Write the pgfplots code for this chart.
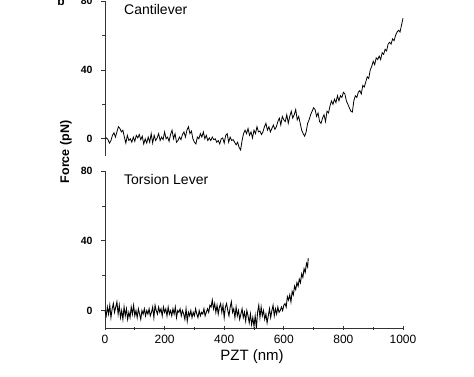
\documentclass[border=0pt]{standalone}
\usepackage{fontspec}
\setmainfont{Liberation Sans}
\usepackage{pgfplots}
\pgfplotsset{compat=1.18}
\usepackage{pgfplotstable}

\pgfplotstableread{
x y
0 0
5 0.5
10 -0.5
15 -2.5
20 -1
25 2
30 3.5
35 1
40 4
45 7
50 6
55 4
60 5
65 1
70 -2.5
75 2
80 -1
85 0
90 -2
95 1
100 -1.5
105 2
110 0.5
115 2.5
120 -0.5
125 1.5
130 -3
135 0
140 -2.5
145 1
150 -2
155 3
160 -2.5
165 2
170 -1
175 0.5
180 3
185 -1
190 1
195 -0.5
200 4
205 0
210 1
215 -1.5
220 2.5
225 5
230 0
235 3
240 -2
245 -1
250 1
255 -0.5
260 2.5
265 4
270 1
275 5
280 7
285 3
290 4.5
295 0
300 -2
305 -3
310 1
315 0
320 3
325 1
330 4
335 0
340 2
345 -1
350 0.5
355 -1
360 1
365 -0.5
370 0
375 -2
380 -1
385 -3
390 0
395 0.5
400 -2.5
405 2
410 3
415 -2
420 1
425 -1
430 -0.5
435 -2
440 -3.5
445 -2
450 -5
455 -6.5
460 -1
465 3
470 5
475 3
480 6
485 2
490 4
495 0.5
500 5
505 3
510 7
515 4
520 4.5
525 2.5
530 4
535 7
540 9
545 5
550 7
555 4
560 6
565 8
570 5.5
575 7
580 10
585 12
590 8
595 13
600 11
605 10
610 14
615 9
620 13
625 16
630 12
635 14
640 17
645 11
650 13
655 9
660 5
665 3
670 1.5
675 4
680 9
685 11
690 14
695 16
700 18
705 17
710 13
715 15
720 10
725 9
730 12
735 14
740 10
745 16
750 15
755 19
760 22
765 20
770 23
775 21
780 25
785 22
790 25
795 24
800 27
805 26
810 22
815 20
820 18
825 16
830 15.5
835 22
840 25
845 24
850 27
855 28
860 26
865 31
870 30
875 33
880 36
885 35
890 40
895 42
900 45
905 43
910 47
915 46
920 48
925 46
930 50
935 49
940 52
945 51
950 55
955 56
960 55
965 58
970 57
975 60
980 62
985 63
990 62
995 66
1000 70
}\cantilever

\pgfplotstableread{
x y
0 0
4 -3
8 2
12 -2
16 3
20 -4
24 1
28 4
32 -1
36 2
40 5
44 -2
48 3
52 -4
56 0
60 -5
64 2
68 -3
72 1
76 -5
80 -1
84 -4
88 2
92 -2
96 3
100 -3
104 0
108 -4
112 1
116 -2
120 -5
124 0
128 -2
132 1
136 -3
140 0
144 -2
148 1
152 -3
156 -1
160 2
164 -4
168 3
172 0
176 -2
180 2
184 -1
188 1
192 -3
196 2
200 -1
204 1
208 -3
212 2
216 -2
220 0
224 -3
228 1
232 -2
236 2
240 -4
244 0
248 -1
252 1
256 -3
260 0
264 -2
268 -5
272 1
276 -6
280 -1
284 -3
288 0
292 -4
296 -1
300 -3
304 1
308 -2
312 -4
316 0
320 -3
324 -1
328 -2
332 1
336 -3
340 -1
344 1
348 -1
352 3
356 2
360 6
364 1
368 4
372 -1
376 3
380 -2
384 2
388 4
392 -1
396 3
400 -4
404 2
408 4
412 0
416 -3
420 2
424 5
428 -1
432 1
436 -4
440 2
444 -3
448 0
452 -5
456 -2
460 1
464 -4
468 -1
472 -6
476 0
480 -3
484 -7
488 -2
492 -8
496 -4
500 -9
504 -3
508 -10
512 -1
516 3
520 -4
524 2
528 -3
532 0
536 -5
540 -2
544 -7
548 -3
552 1
556 -4
560 0
564 3
568 -3
572 1
576 -2
580 2
584 -1
588 0
592 2
596 0
600 3
604 4
608 2
612 8
616 6
620 9
624 5
628 11
632 9
636 14
640 12
644 16
648 14
652 18
656 16
660 21
664 19
668 24
672 22
676 27
680 25
682 30
}\torsion

\begin{document}
\begin{tikzpicture}[x=1pt,y=1pt]
\useasboundingbox (0,0) rectangle (474,-376);
\pgfplotsset{
  panel/.style={
    scale only axis, width=298pt,
    xmin=0, xmax=1000, ymin=-10, ymax=80,
    axis y line=left,
    ytick={0,40,80}, minor ytick={20,60},
    tick align=outside, major tick length=4pt, minor tick length=3pt,
    tick style={black!80, line width=0.8pt},
    /pgf/number format/assume math mode=true,
    /pgf/number format/1000 sep={},
    yticklabel style={font=\fontsize{10.5pt}{12pt}\selectfont\bfseries, xshift=-5pt},
    clip=false,
  },
  plainlines/.style={axis line style={-, black!80, line width=0.8pt}},
}
\begin{axis}[panel, at={(105pt,-156pt)}, anchor=south west, height=155pt,
  axis x line=none, plainlines]
\addplot[black, line width=0.8pt] table {\cantilever};
\end{axis}
\begin{axis}[panel, at={(105pt,-328pt)}, anchor=south west, height=157pt,
  axis x line=bottom, plainlines,
  xtick={0,200,400,600,800,1000}, minor xtick={100,300,500,700,900},
  xticklabel style={font=\fontsize{12pt}{14pt}\selectfont, yshift=-2pt}]
\addplot[black, line width=0.9pt] table {\torsion};
\end{axis}
\node[anchor=west, inner sep=0pt, font=\fontsize{14pt}{16pt}\selectfont] at (124,-9) {Cantilever};
\node[anchor=west, inner sep=0pt, font=\fontsize{14pt}{16pt}\selectfont] at (124,-179) {Torsion Lever};
\node[inner sep=0pt, font=\fontsize{15pt}{18pt}\selectfont] at (252,-357) {PZT (nm)};
\node[inner sep=0pt, rotate=90, font=\fontsize{12.5pt}{15pt}\selectfont\bfseries] at (66,-152) {Force (pN)};
\node[inner sep=0pt, font=\fontsize{12pt}{14pt}\selectfont\bfseries] at (61,-1) {b};
\end{tikzpicture}
\end{document}
